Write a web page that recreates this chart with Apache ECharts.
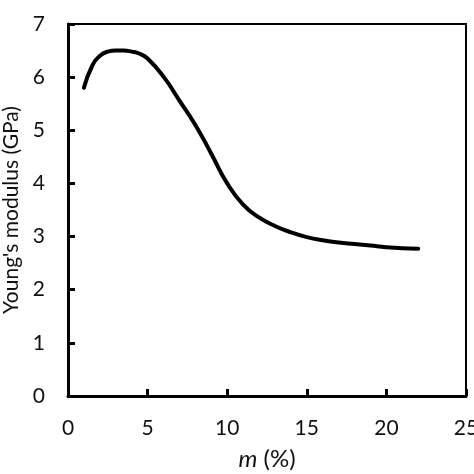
<!DOCTYPE html>
<html>
<head>
<meta charset="utf-8">
<script src="https://cdn.jsdelivr.net/npm/echarts@6/dist/echarts.min.js"></script>
<style>
  html, body { margin: 0; padding: 0; background: #fff; }
  #chart { width: 474px; height: 474px; }
</style>
</head>
<body>
<div id="chart"></div>
<script>
// m (%) values and Young's modulus (GPa)
const mValues = [1, 1.5, 2, 2.5, 3, 3.5, 4, 4.5, 5, 6, 7, 8, 9, 10, 11, 12, 13, 14, 15, 16, 17, 18, 19, 20, 21, 22];
const modulus = [5.8, 6.2, 6.4, 6.48, 6.5, 6.5, 6.48, 6.44, 6.35, 6.01, 5.56, 5.1, 4.56, 4.0, 3.6, 3.36, 3.2, 3.08, 2.99, 2.93, 2.89, 2.86, 2.83, 2.8, 2.78, 2.77];

const fontFamily = 'Lato, "Open Sans", sans-serif';

const chart = echarts.init(document.getElementById('chart'));

const option = {
  backgroundColor: '#fff',
  animation: false,
  grid: {
    left: 68,
    right: 8,
    top: 24,
    bottom: 78,
    outerBoundsMode: 'none',
    containLabel: false,
    show: true,
    borderColor: '#000',
    borderWidth: 2
  },
  xAxis: {
    type: 'value',
    min: 0,
    max: 25,
    interval: 5,
    name: '{i|m} (%)',
    nameLocation: 'middle',
    nameGap: 51,
    nameTextStyle: {
      color: '#111',
      fontSize: 24,
      fontFamily: fontFamily,
      rich: {
        i: { fontStyle: 'italic', fontSize: 24, fontFamily: fontFamily, color: '#111' }
      }
    },
    axisLine: { show: true, lineStyle: { color: '#000', width: 3 } },
    axisTick: { show: true, inside: true, length: 7, lineStyle: { color: '#000', width: 3 } },
    axisLabel: { color: '#111', fontSize: 21, fontFamily: fontFamily, margin: 22 },
    splitLine: { show: false }
  },
  yAxis: {
    type: 'value',
    min: 0,
    max: 7,
    interval: 1,
    name: "Young's modulus (GPa)",
    nameLocation: 'middle',
    nameGap: 44,
    nameTextStyle: { color: '#111', fontSize: 21, fontFamily: fontFamily },
    axisLine: { show: true, lineStyle: { color: '#000', width: 3 } },
    axisTick: { show: true, inside: true, length: 7, lineStyle: { color: '#000', width: 3 } },
    axisLabel: { color: '#111', fontSize: 21, fontFamily: fontFamily, margin: 23 },
    splitLine: { show: false }
  },
  series: [{
    type: 'line',
    data: mValues.map((m, i) => [m, modulus[i]]),
    smooth: 0.5,
    showSymbol: false,
    lineStyle: { color: '#000', width: 4, cap: 'round' }
  }]
};

chart.setOption(option);
</script>
</body>
</html>
